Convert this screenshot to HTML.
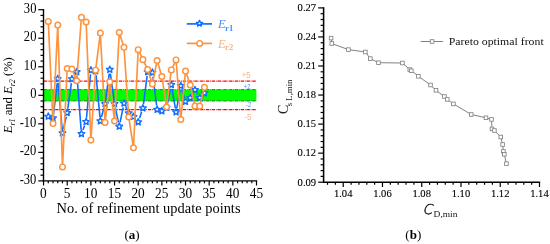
<!DOCTYPE html>
<html><head><meta charset="utf-8"><title>figure</title>
<style>html,body{margin:0;padding:0;background:#fff}body{width:550px;height:244px;overflow:hidden}</style></head>
<body>
<svg width="550" height="244" viewBox="0 0 550 244" style="display:block;font-family:'Liberation Serif', serif">
<rect width="550" height="244" fill="#fff"/>
<rect x="43.5" y="89.59" width="212.9" height="11.41" fill="#00ff00"/>
<line x1="43.5" x2="256.5" y1="89.59" y2="89.59" stroke="#454545" stroke-width="0.8" stroke-dasharray="3.3 0.9 0.7 0.9"/>
<line x1="43.5" x2="256.5" y1="101.01" y2="101.01" stroke="#454545" stroke-width="0.8" stroke-dasharray="3.3 0.9 0.7 0.9"/>
<line x1="43.5" x2="255.7" y1="81.03" y2="81.03" stroke="#ff0000" stroke-width="1.3" stroke-dasharray="3.4 0.8 0.8 0.8"/>
<line x1="43.5" x2="255.7" y1="109.57" y2="109.57" stroke="#ff0000" stroke-width="1.3" stroke-dasharray="3.4 0.8 0.8 0.8"/>
<path d="M53.50 114.06L57.26 82.82M58.10 82.84L62.12 128.88M63.41 128.97L66.28 116.70M67.78 108.65L71.37 83.10M74.21 75.62L74.41 75.32M76.99 75.99L81.10 129.73M82.91 130.01L84.63 125.65M86.51 117.75L90.50 74.27M95.99 75.13L99.95 116.90M101.43 117.03L103.98 107.81M105.63 99.80L109.24 73.68M110.36 73.68L113.97 99.80M115.38 107.87L118.42 122.39M120.09 122.38L123.18 107.31M125.80 106.97L126.93 109.31M139.51 118.24L141.61 112.02M143.46 104.07L147.13 75.97M152.91 76.54L156.60 105.50M167.42 103.55L170.49 88.76M172.02 88.78L175.35 108.09M176.78 108.10L180.06 89.92M181.97 89.81L184.33 97.65M192.34 94.34L192.89 93.41M197.07 93.41L197.62 94.34" fill="none" stroke="#0f6eff" stroke-width="1.6"/>
<polygon points="48.28,112.96 49.22,115.12 51.56,115.35 49.80,116.91 50.31,119.21 48.28,118.01 46.25,119.21 46.76,116.91 45.00,115.35 47.34,115.12" fill="#fff" stroke="#0f6eff" stroke-width="1.45" stroke-linejoin="round"/>
<polygon points="53.01,114.68 53.95,116.83 56.30,117.06 54.54,118.62 55.04,120.92 53.01,119.73 50.99,120.92 51.49,118.62 49.73,117.06 52.07,116.83" fill="#fff" stroke="#0f6eff" stroke-width="1.45" stroke-linejoin="round"/>
<polygon points="57.75,75.30 58.69,77.46 61.03,77.68 59.27,79.25 59.77,81.54 57.75,80.35 55.72,81.54 56.22,79.25 54.47,77.68 56.81,77.46" fill="#fff" stroke="#0f6eff" stroke-width="1.45" stroke-linejoin="round"/>
<polygon points="62.48,129.51 63.42,131.67 65.76,131.90 64.00,133.46 64.51,135.76 62.48,134.56 60.45,135.76 60.96,133.46 59.20,131.90 61.54,131.67" fill="#fff" stroke="#0f6eff" stroke-width="1.45" stroke-linejoin="round"/>
<polygon points="67.21,109.26 68.15,111.41 70.49,111.64 68.73,113.20 69.24,115.50 67.21,114.31 65.18,115.50 65.69,113.20 63.93,111.64 66.27,111.41" fill="#fff" stroke="#0f6eff" stroke-width="1.45" stroke-linejoin="round"/>
<polygon points="71.94,75.59 72.88,77.74 75.22,77.97 73.47,79.53 73.97,81.83 71.94,80.64 69.92,81.83 70.42,79.53 68.66,77.97 71.00,77.74" fill="#fff" stroke="#0f6eff" stroke-width="1.45" stroke-linejoin="round"/>
<polygon points="76.68,68.45 77.62,70.61 79.96,70.84 78.20,72.40 78.70,74.69 76.68,73.50 74.65,74.69 75.15,72.40 73.39,70.84 75.74,70.61" fill="#fff" stroke="#0f6eff" stroke-width="1.45" stroke-linejoin="round"/>
<polygon points="81.41,130.37 82.35,132.53 84.69,132.75 82.93,134.31 83.44,136.61 81.41,135.42 79.38,136.61 79.89,134.31 78.13,132.75 80.47,132.53" fill="#fff" stroke="#0f6eff" stroke-width="1.45" stroke-linejoin="round"/>
<polygon points="86.14,118.39 87.08,120.54 89.42,120.77 87.66,122.33 88.17,124.63 86.14,123.44 84.11,124.63 84.62,122.33 82.86,120.77 85.20,120.54" fill="#fff" stroke="#0f6eff" stroke-width="1.45" stroke-linejoin="round"/>
<polygon points="90.87,66.74 91.81,68.90 94.15,69.12 92.39,70.69 92.90,72.98 90.87,71.79 88.84,72.98 89.35,70.69 87.59,69.12 89.93,68.90" fill="#fff" stroke="#0f6eff" stroke-width="1.45" stroke-linejoin="round"/>
<polygon points="95.60,67.60 96.54,69.75 98.89,69.98 97.13,71.54 97.63,73.84 95.60,72.65 93.58,73.84 94.08,71.54 92.32,69.98 94.66,69.75" fill="#fff" stroke="#0f6eff" stroke-width="1.45" stroke-linejoin="round"/>
<polygon points="100.34,117.53 101.28,119.69 103.62,119.91 101.86,121.47 102.36,123.77 100.34,122.58 98.31,123.77 98.81,121.47 97.06,119.91 99.40,119.69" fill="#fff" stroke="#0f6eff" stroke-width="1.45" stroke-linejoin="round"/>
<polygon points="105.07,100.41 106.01,102.57 108.35,102.79 106.59,104.35 107.10,106.65 105.07,105.46 103.04,106.65 103.55,104.35 101.79,102.79 104.13,102.57" fill="#fff" stroke="#0f6eff" stroke-width="1.45" stroke-linejoin="round"/>
<polygon points="109.80,66.17 110.74,68.33 113.08,68.55 111.32,70.11 111.83,72.41 109.80,71.22 107.77,72.41 108.28,70.11 106.52,68.55 108.86,68.33" fill="#fff" stroke="#0f6eff" stroke-width="1.45" stroke-linejoin="round"/>
<polygon points="114.53,100.41 115.47,102.57 117.81,102.79 116.06,104.35 116.56,106.65 114.53,105.46 112.51,106.65 113.01,104.35 111.25,102.79 113.59,102.57" fill="#fff" stroke="#0f6eff" stroke-width="1.45" stroke-linejoin="round"/>
<polygon points="119.27,122.95 120.21,125.11 122.55,125.34 120.79,126.90 121.29,129.19 119.27,128.00 117.24,129.19 117.74,126.90 115.98,125.34 118.33,125.11" fill="#fff" stroke="#0f6eff" stroke-width="1.45" stroke-linejoin="round"/>
<polygon points="124.00,99.84 124.94,101.99 127.28,102.22 125.52,103.78 126.03,106.08 124.00,104.89 121.97,106.08 122.48,103.78 120.72,102.22 123.06,101.99" fill="#fff" stroke="#0f6eff" stroke-width="1.45" stroke-linejoin="round"/>
<polygon points="128.73,109.54 129.67,111.70 132.01,111.92 130.25,113.49 130.76,115.78 128.73,114.59 126.70,115.78 127.21,113.49 125.45,111.92 127.79,111.70" fill="#fff" stroke="#0f6eff" stroke-width="1.45" stroke-linejoin="round"/>
<polygon points="133.46,113.25 134.40,115.41 136.74,115.63 134.98,117.19 135.49,119.49 133.46,118.30 131.43,119.49 131.94,117.19 130.18,115.63 132.52,115.41" fill="#fff" stroke="#0f6eff" stroke-width="1.45" stroke-linejoin="round"/>
<polygon points="138.19,118.67 139.13,120.83 141.48,121.06 139.72,122.62 140.22,124.91 138.19,123.72 136.17,124.91 136.67,122.62 134.91,121.06 137.25,120.83" fill="#fff" stroke="#0f6eff" stroke-width="1.45" stroke-linejoin="round"/>
<polygon points="142.93,104.69 143.87,106.85 146.21,107.07 144.45,108.63 144.95,110.93 142.93,109.74 140.90,110.93 141.40,108.63 139.65,107.07 141.99,106.85" fill="#fff" stroke="#0f6eff" stroke-width="1.45" stroke-linejoin="round"/>
<polygon points="147.66,68.45 148.60,70.61 150.94,70.84 149.18,72.40 149.69,74.69 147.66,73.50 145.63,74.69 146.14,72.40 144.38,70.84 146.72,70.61" fill="#fff" stroke="#0f6eff" stroke-width="1.45" stroke-linejoin="round"/>
<polygon points="152.39,69.02 153.33,71.18 155.67,71.41 153.91,72.97 154.42,75.26 152.39,74.07 150.36,75.26 150.87,72.97 149.11,71.41 151.45,71.18" fill="#fff" stroke="#0f6eff" stroke-width="1.45" stroke-linejoin="round"/>
<polygon points="157.12,106.12 158.06,108.27 160.40,108.50 158.65,110.06 159.15,112.36 157.12,111.17 155.10,112.36 155.60,110.06 153.84,108.50 156.18,108.27" fill="#fff" stroke="#0f6eff" stroke-width="1.45" stroke-linejoin="round"/>
<polygon points="161.86,107.54 162.80,109.70 165.14,109.93 163.38,111.49 163.88,113.78 161.86,112.59 159.83,113.78 160.33,111.49 158.57,109.93 160.92,109.70" fill="#fff" stroke="#0f6eff" stroke-width="1.45" stroke-linejoin="round"/>
<polygon points="166.59,104.12 167.53,106.27 169.87,106.50 168.11,108.06 168.62,110.36 166.59,109.17 164.56,110.36 165.07,108.06 163.31,106.50 165.65,106.27" fill="#fff" stroke="#0f6eff" stroke-width="1.45" stroke-linejoin="round"/>
<polygon points="171.32,81.29 172.26,83.45 174.60,83.68 172.84,85.24 173.35,87.53 171.32,86.34 169.29,87.53 169.80,85.24 168.04,83.68 170.38,83.45" fill="#fff" stroke="#0f6eff" stroke-width="1.45" stroke-linejoin="round"/>
<polygon points="176.05,108.68 176.99,110.84 179.33,111.07 177.57,112.63 178.08,114.93 176.05,113.73 174.02,114.93 174.53,112.63 172.77,111.07 175.11,110.84" fill="#fff" stroke="#0f6eff" stroke-width="1.45" stroke-linejoin="round"/>
<polygon points="180.78,82.43 181.72,84.59 184.07,84.82 182.31,86.38 182.81,88.68 180.78,87.48 178.76,88.68 179.26,86.38 177.50,84.82 179.84,84.59" fill="#fff" stroke="#0f6eff" stroke-width="1.45" stroke-linejoin="round"/>
<polygon points="185.52,98.13 186.46,100.28 188.80,100.51 187.04,102.07 187.54,104.37 185.52,103.18 183.49,104.37 183.99,102.07 182.24,100.51 184.58,100.28" fill="#fff" stroke="#0f6eff" stroke-width="1.45" stroke-linejoin="round"/>
<polygon points="190.25,94.42 191.19,96.57 193.53,96.80 191.77,98.36 192.28,100.66 190.25,99.47 188.22,100.66 188.73,98.36 186.97,96.80 189.31,96.57" fill="#fff" stroke="#0f6eff" stroke-width="1.45" stroke-linejoin="round"/>
<polygon points="194.98,86.43 195.92,88.58 198.26,88.81 196.50,90.37 197.01,92.67 194.98,91.48 192.95,92.67 193.46,90.37 191.70,88.81 194.04,88.58" fill="#fff" stroke="#0f6eff" stroke-width="1.45" stroke-linejoin="round"/>
<polygon points="199.71,94.42 200.65,96.57 202.99,96.80 201.24,98.36 201.74,100.66 199.71,99.47 197.69,100.66 198.19,98.36 196.43,96.80 198.77,96.57" fill="#fff" stroke="#0f6eff" stroke-width="1.45" stroke-linejoin="round"/>
<polygon points="204.45,89.57 205.39,91.72 207.73,91.95 205.97,93.51 206.47,95.81 204.45,94.62 202.42,95.81 202.92,93.51 201.16,91.95 203.51,91.72" fill="#fff" stroke="#0f6eff" stroke-width="1.45" stroke-linejoin="round"/>
<polyline points="48.28,21.40 53.01,123.55 57.75,25.11 62.48,166.92 67.21,68.48 71.94,69.05 76.68,80.75 81.41,17.40 86.14,21.97 90.87,140.10 95.60,70.19 100.34,33.10 105.07,122.41 109.80,81.89 114.53,120.98 119.27,32.53 124.00,47.36 128.73,116.99 133.46,147.80 138.19,49.65 142.93,59.63 147.66,69.62 152.39,83.89 157.12,60.49 161.86,76.47 166.59,107.00 171.32,69.91 176.05,59.92 180.78,119.55 185.52,71.05 190.25,85.03 194.98,106.14 199.71,106.14 204.45,87.31" fill="none" stroke="#fd933e" stroke-width="1.65" stroke-linejoin="round"/>
<circle cx="48.28" cy="21.40" r="2.8" fill="#fff" stroke="#fd933e" stroke-width="1.45"/>
<circle cx="53.01" cy="123.55" r="2.8" fill="#fff" stroke="#fd933e" stroke-width="1.45"/>
<circle cx="57.75" cy="25.11" r="2.8" fill="#fff" stroke="#fd933e" stroke-width="1.45"/>
<circle cx="62.48" cy="166.92" r="2.8" fill="#fff" stroke="#fd933e" stroke-width="1.45"/>
<circle cx="67.21" cy="68.48" r="2.8" fill="#fff" stroke="#fd933e" stroke-width="1.45"/>
<circle cx="71.94" cy="69.05" r="2.8" fill="#fff" stroke="#fd933e" stroke-width="1.45"/>
<circle cx="76.68" cy="80.75" r="2.8" fill="#fff" stroke="#fd933e" stroke-width="1.45"/>
<circle cx="81.41" cy="17.40" r="2.8" fill="#fff" stroke="#fd933e" stroke-width="1.45"/>
<circle cx="86.14" cy="21.97" r="2.8" fill="#fff" stroke="#fd933e" stroke-width="1.45"/>
<circle cx="90.87" cy="140.10" r="2.8" fill="#fff" stroke="#fd933e" stroke-width="1.45"/>
<circle cx="95.60" cy="70.19" r="2.8" fill="#fff" stroke="#fd933e" stroke-width="1.45"/>
<circle cx="100.34" cy="33.10" r="2.8" fill="#fff" stroke="#fd933e" stroke-width="1.45"/>
<circle cx="105.07" cy="122.41" r="2.8" fill="#fff" stroke="#fd933e" stroke-width="1.45"/>
<circle cx="109.80" cy="81.89" r="2.8" fill="#fff" stroke="#fd933e" stroke-width="1.45"/>
<circle cx="114.53" cy="120.98" r="2.8" fill="#fff" stroke="#fd933e" stroke-width="1.45"/>
<circle cx="119.27" cy="32.53" r="2.8" fill="#fff" stroke="#fd933e" stroke-width="1.45"/>
<circle cx="124.00" cy="47.36" r="2.8" fill="#fff" stroke="#fd933e" stroke-width="1.45"/>
<circle cx="128.73" cy="116.99" r="2.8" fill="#fff" stroke="#fd933e" stroke-width="1.45"/>
<circle cx="133.46" cy="147.80" r="2.8" fill="#fff" stroke="#fd933e" stroke-width="1.45"/>
<circle cx="138.19" cy="49.65" r="2.8" fill="#fff" stroke="#fd933e" stroke-width="1.45"/>
<circle cx="142.93" cy="59.63" r="2.8" fill="#fff" stroke="#fd933e" stroke-width="1.45"/>
<circle cx="147.66" cy="69.62" r="2.8" fill="#fff" stroke="#fd933e" stroke-width="1.45"/>
<circle cx="152.39" cy="83.89" r="2.8" fill="#fff" stroke="#fd933e" stroke-width="1.45"/>
<circle cx="157.12" cy="60.49" r="2.8" fill="#fff" stroke="#fd933e" stroke-width="1.45"/>
<circle cx="161.86" cy="76.47" r="2.8" fill="#fff" stroke="#fd933e" stroke-width="1.45"/>
<circle cx="166.59" cy="107.00" r="2.8" fill="#fff" stroke="#fd933e" stroke-width="1.45"/>
<circle cx="171.32" cy="69.91" r="2.8" fill="#fff" stroke="#fd933e" stroke-width="1.45"/>
<circle cx="176.05" cy="59.92" r="2.8" fill="#fff" stroke="#fd933e" stroke-width="1.45"/>
<circle cx="180.78" cy="119.55" r="2.8" fill="#fff" stroke="#fd933e" stroke-width="1.45"/>
<circle cx="185.52" cy="71.05" r="2.8" fill="#fff" stroke="#fd933e" stroke-width="1.45"/>
<circle cx="190.25" cy="85.03" r="2.8" fill="#fff" stroke="#fd933e" stroke-width="1.45"/>
<circle cx="194.98" cy="106.14" r="2.8" fill="#fff" stroke="#fd933e" stroke-width="1.45"/>
<circle cx="199.71" cy="106.14" r="2.8" fill="#fff" stroke="#fd933e" stroke-width="1.45"/>
<circle cx="204.45" cy="87.31" r="2.8" fill="#fff" stroke="#fd933e" stroke-width="1.45"/>
<g stroke="#000" stroke-width="1.4" fill="none">
<line x1="43.5" x2="43.5" y1="9.00" y2="181.60"/>
<line x1="42.8" x2="257.2" y1="180.90" y2="180.90"/>
</g><g stroke="#000" stroke-width="1.2">
<line x1="38.3" x2="43.5" y1="180.90" y2="180.90"/>
<line x1="40.5" x2="43.5" y1="175.19" y2="175.19"/>
<line x1="40.5" x2="43.5" y1="169.49" y2="169.49"/>
<line x1="40.5" x2="43.5" y1="163.78" y2="163.78"/>
<line x1="40.5" x2="43.5" y1="158.07" y2="158.07"/>
<line x1="38.3" x2="43.5" y1="152.37" y2="152.37"/>
<line x1="40.5" x2="43.5" y1="146.66" y2="146.66"/>
<line x1="40.5" x2="43.5" y1="140.95" y2="140.95"/>
<line x1="40.5" x2="43.5" y1="135.25" y2="135.25"/>
<line x1="40.5" x2="43.5" y1="129.54" y2="129.54"/>
<line x1="38.3" x2="43.5" y1="123.83" y2="123.83"/>
<line x1="40.5" x2="43.5" y1="118.13" y2="118.13"/>
<line x1="40.5" x2="43.5" y1="112.42" y2="112.42"/>
<line x1="40.5" x2="43.5" y1="106.71" y2="106.71"/>
<line x1="40.5" x2="43.5" y1="101.01" y2="101.01"/>
<line x1="38.3" x2="43.5" y1="95.30" y2="95.30"/>
<line x1="40.5" x2="43.5" y1="89.59" y2="89.59"/>
<line x1="40.5" x2="43.5" y1="83.89" y2="83.89"/>
<line x1="40.5" x2="43.5" y1="78.18" y2="78.18"/>
<line x1="40.5" x2="43.5" y1="72.47" y2="72.47"/>
<line x1="38.3" x2="43.5" y1="66.77" y2="66.77"/>
<line x1="40.5" x2="43.5" y1="61.06" y2="61.06"/>
<line x1="40.5" x2="43.5" y1="55.35" y2="55.35"/>
<line x1="40.5" x2="43.5" y1="49.65" y2="49.65"/>
<line x1="40.5" x2="43.5" y1="43.94" y2="43.94"/>
<line x1="38.3" x2="43.5" y1="38.23" y2="38.23"/>
<line x1="40.5" x2="43.5" y1="32.53" y2="32.53"/>
<line x1="40.5" x2="43.5" y1="26.82" y2="26.82"/>
<line x1="40.5" x2="43.5" y1="21.11" y2="21.11"/>
<line x1="40.5" x2="43.5" y1="15.41" y2="15.41"/>
<line x1="38.3" x2="43.5" y1="9.70" y2="9.70"/>
<line x1="43.55" x2="43.55" y1="180.90" y2="185.50"/>
<line x1="48.28" x2="48.28" y1="180.90" y2="183.30"/>
<line x1="53.01" x2="53.01" y1="180.90" y2="183.30"/>
<line x1="57.75" x2="57.75" y1="180.90" y2="183.30"/>
<line x1="62.48" x2="62.48" y1="180.90" y2="183.30"/>
<line x1="67.21" x2="67.21" y1="180.90" y2="185.50"/>
<line x1="71.94" x2="71.94" y1="180.90" y2="183.30"/>
<line x1="76.68" x2="76.68" y1="180.90" y2="183.30"/>
<line x1="81.41" x2="81.41" y1="180.90" y2="183.30"/>
<line x1="86.14" x2="86.14" y1="180.90" y2="183.30"/>
<line x1="90.87" x2="90.87" y1="180.90" y2="185.50"/>
<line x1="95.60" x2="95.60" y1="180.90" y2="183.30"/>
<line x1="100.34" x2="100.34" y1="180.90" y2="183.30"/>
<line x1="105.07" x2="105.07" y1="180.90" y2="183.30"/>
<line x1="109.80" x2="109.80" y1="180.90" y2="183.30"/>
<line x1="114.53" x2="114.53" y1="180.90" y2="185.50"/>
<line x1="119.27" x2="119.27" y1="180.90" y2="183.30"/>
<line x1="124.00" x2="124.00" y1="180.90" y2="183.30"/>
<line x1="128.73" x2="128.73" y1="180.90" y2="183.30"/>
<line x1="133.46" x2="133.46" y1="180.90" y2="183.30"/>
<line x1="138.19" x2="138.19" y1="180.90" y2="185.50"/>
<line x1="142.93" x2="142.93" y1="180.90" y2="183.30"/>
<line x1="147.66" x2="147.66" y1="180.90" y2="183.30"/>
<line x1="152.39" x2="152.39" y1="180.90" y2="183.30"/>
<line x1="157.12" x2="157.12" y1="180.90" y2="183.30"/>
<line x1="161.86" x2="161.86" y1="180.90" y2="185.50"/>
<line x1="166.59" x2="166.59" y1="180.90" y2="183.30"/>
<line x1="171.32" x2="171.32" y1="180.90" y2="183.30"/>
<line x1="176.05" x2="176.05" y1="180.90" y2="183.30"/>
<line x1="180.78" x2="180.78" y1="180.90" y2="183.30"/>
<line x1="185.52" x2="185.52" y1="180.90" y2="185.50"/>
<line x1="190.25" x2="190.25" y1="180.90" y2="183.30"/>
<line x1="194.98" x2="194.98" y1="180.90" y2="183.30"/>
<line x1="199.71" x2="199.71" y1="180.90" y2="183.30"/>
<line x1="204.45" x2="204.45" y1="180.90" y2="183.30"/>
<line x1="209.18" x2="209.18" y1="180.90" y2="185.50"/>
<line x1="213.91" x2="213.91" y1="180.90" y2="183.30"/>
<line x1="218.64" x2="218.64" y1="180.90" y2="183.30"/>
<line x1="223.37" x2="223.37" y1="180.90" y2="183.30"/>
<line x1="228.11" x2="228.11" y1="180.90" y2="183.30"/>
<line x1="232.84" x2="232.84" y1="180.90" y2="185.50"/>
<line x1="237.57" x2="237.57" y1="180.90" y2="183.30"/>
<line x1="242.30" x2="242.30" y1="180.90" y2="183.30"/>
<line x1="247.04" x2="247.04" y1="180.90" y2="183.30"/>
<line x1="251.77" x2="251.77" y1="180.90" y2="183.30"/>
<line x1="256.50" x2="256.50" y1="180.90" y2="185.50"/>
</g>
<g font-size="14" fill="#000">
<text x="36.4" y="184.00" text-anchor="end" textLength="16.70" lengthAdjust="spacingAndGlyphs">-30</text>
<text x="36.4" y="155.47" text-anchor="end" textLength="16.70" lengthAdjust="spacingAndGlyphs">-20</text>
<text x="36.4" y="126.93" text-anchor="end" textLength="16.70" lengthAdjust="spacingAndGlyphs">-10</text>
<text x="36.4" y="98.40" text-anchor="end" textLength="6.27" lengthAdjust="spacingAndGlyphs">0</text>
<text x="36.4" y="69.87" text-anchor="end" textLength="12.53" lengthAdjust="spacingAndGlyphs">10</text>
<text x="36.4" y="41.33" text-anchor="end" textLength="12.53" lengthAdjust="spacingAndGlyphs">20</text>
<text x="36.4" y="12.80" text-anchor="end" textLength="12.53" lengthAdjust="spacingAndGlyphs">30</text>
<text x="40.12" y="197.6" textLength="6.65" lengthAdjust="spacingAndGlyphs">0</text>
<text x="63.79" y="197.6" textLength="6.65" lengthAdjust="spacingAndGlyphs">5</text>
<text x="84.12" y="197.6" textLength="13.30" lengthAdjust="spacingAndGlyphs">10</text>
<text x="107.78" y="197.6" textLength="13.30" lengthAdjust="spacingAndGlyphs">15</text>
<text x="131.44" y="197.6" textLength="13.30" lengthAdjust="spacingAndGlyphs">20</text>
<text x="155.11" y="197.6" textLength="13.30" lengthAdjust="spacingAndGlyphs">25</text>
<text x="178.77" y="197.6" textLength="13.30" lengthAdjust="spacingAndGlyphs">30</text>
<text x="202.43" y="197.6" textLength="13.30" lengthAdjust="spacingAndGlyphs">35</text>
<text x="226.09" y="197.6" textLength="13.30" lengthAdjust="spacingAndGlyphs">40</text>
<text x="249.75" y="197.6" textLength="13.30" lengthAdjust="spacingAndGlyphs">45</text>
</g>
<text x="56.5" y="213.4" font-size="14.2" textLength="184" lengthAdjust="spacingAndGlyphs">No. of refinement update points</text>
<text transform="translate(12.4,133.2) rotate(-90)" font-size="13.4" textLength="76" lengthAdjust="spacingAndGlyphs"><tspan font-style="italic">E</tspan><tspan font-size="8.6" dy="2.2" font-style="italic">r1</tspan><tspan dy="-2.2"> and </tspan><tspan font-style="italic">E</tspan><tspan font-size="8.6" dy="2.2" font-style="italic">r2</tspan><tspan dy="-2.2"> (%)</tspan></text>
<line x1="186.8" x2="212" y1="23.9" y2="23.9" stroke="#0f6eff" stroke-width="1.7"/>
<polygon points="199.50,20.30 200.35,22.33 202.54,22.51 200.88,23.95 201.38,26.09 199.50,24.95 197.62,26.09 198.12,23.95 196.46,22.51 198.65,22.33" fill="#fff" stroke="#0f6eff" stroke-width="1.45" stroke-linejoin="round"/>
<text x="218" y="28.0" font-size="12.6" fill="#4490fb"><tspan font-style="italic">E</tspan><tspan font-size="8.6" dy="2.9" dx="-0.6" font-weight="bold">r1</tspan></text>
<line x1="186.8" x2="212" y1="43.4" y2="43.4" stroke="#fd933e" stroke-width="1.7"/>
<circle cx="199.7" cy="43.4" r="2.8" fill="#fff" stroke="#fd933e" stroke-width="1.45"/>
<text x="218" y="47.5" font-size="12.6" fill="#fab384"><tspan font-style="italic">E</tspan><tspan font-size="8.6" dy="2.9" dx="-0.6" font-weight="bold">r2</tspan></text>
<text x="241.8" y="77.5" font-size="9.3" font-family="'Liberation Sans', sans-serif" fill="#fab384" textLength="8.7" lengthAdjust="spacingAndGlyphs">+5</text>
<text x="244.2" y="119.7" font-size="9.3" font-family="'Liberation Sans', sans-serif" fill="#fab384" textLength="7.2" lengthAdjust="spacingAndGlyphs">-5</text>
<text x="243.8" y="88.9" font-size="7.6" font-family="'Liberation Sans', sans-serif" fill="#4490fb" textLength="6.7" lengthAdjust="spacingAndGlyphs">+2</text>
<text x="246.1" y="106.8" font-size="7.6" font-family="'Liberation Sans', sans-serif" fill="#4490fb" textLength="5.3" lengthAdjust="spacingAndGlyphs">-2</text>
<text x="132" y="238.7" font-size="13" text-anchor="middle">(<tspan font-weight="bold">a</tspan>)</text>
<polyline points="331.1,38.1 331.8,43.5 348.4,49.6 365.4,52.0 370.3,58.6 378.5,62.7 402.4,63.0 409.8,69.6 411.3,70.7 418.4,76.3 430.5,85.0 436.0,90.3 444.4,96.5 447.2,99.4 453.4,103.9 471.2,114.5 486.0,117.8 491.5,119.4 492.0,128.9 494.4,130.5 500.8,137.0 502.6,144.5 503.4,151.4 504.3,154.3 506.4,163.7" fill="none" stroke="#828282" stroke-width="1"/>
<rect x="329.3" y="36.3" width="3.6" height="3.6" fill="#fff" stroke="#828282" stroke-width="0.85"/>
<rect x="330.0" y="41.7" width="3.6" height="3.6" fill="#fff" stroke="#828282" stroke-width="0.85"/>
<rect x="346.6" y="47.8" width="3.6" height="3.6" fill="#fff" stroke="#828282" stroke-width="0.85"/>
<rect x="363.6" y="50.2" width="3.6" height="3.6" fill="#fff" stroke="#828282" stroke-width="0.85"/>
<rect x="368.5" y="56.8" width="3.6" height="3.6" fill="#fff" stroke="#828282" stroke-width="0.85"/>
<rect x="376.7" y="60.9" width="3.6" height="3.6" fill="#fff" stroke="#828282" stroke-width="0.85"/>
<rect x="400.6" y="61.2" width="3.6" height="3.6" fill="#fff" stroke="#828282" stroke-width="0.85"/>
<rect x="408.0" y="67.8" width="3.6" height="3.6" fill="#fff" stroke="#828282" stroke-width="0.85"/>
<rect x="409.5" y="68.9" width="3.6" height="3.6" fill="#fff" stroke="#828282" stroke-width="0.85"/>
<rect x="416.6" y="74.5" width="3.6" height="3.6" fill="#fff" stroke="#828282" stroke-width="0.85"/>
<rect x="428.7" y="83.2" width="3.6" height="3.6" fill="#fff" stroke="#828282" stroke-width="0.85"/>
<rect x="434.2" y="88.5" width="3.6" height="3.6" fill="#fff" stroke="#828282" stroke-width="0.85"/>
<rect x="442.6" y="94.7" width="3.6" height="3.6" fill="#fff" stroke="#828282" stroke-width="0.85"/>
<rect x="445.4" y="97.6" width="3.6" height="3.6" fill="#fff" stroke="#828282" stroke-width="0.85"/>
<rect x="451.6" y="102.1" width="3.6" height="3.6" fill="#fff" stroke="#828282" stroke-width="0.85"/>
<rect x="469.4" y="112.7" width="3.6" height="3.6" fill="#fff" stroke="#828282" stroke-width="0.85"/>
<rect x="484.2" y="116.0" width="3.6" height="3.6" fill="#fff" stroke="#828282" stroke-width="0.85"/>
<rect x="489.7" y="117.6" width="3.6" height="3.6" fill="#fff" stroke="#828282" stroke-width="0.85"/>
<rect x="490.2" y="127.1" width="3.6" height="3.6" fill="#fff" stroke="#828282" stroke-width="0.85"/>
<rect x="492.6" y="128.7" width="3.6" height="3.6" fill="#fff" stroke="#828282" stroke-width="0.85"/>
<rect x="499.0" y="135.2" width="3.6" height="3.6" fill="#fff" stroke="#828282" stroke-width="0.85"/>
<rect x="500.8" y="142.7" width="3.6" height="3.6" fill="#fff" stroke="#828282" stroke-width="0.85"/>
<rect x="501.6" y="149.6" width="3.6" height="3.6" fill="#fff" stroke="#828282" stroke-width="0.85"/>
<rect x="502.5" y="152.5" width="3.6" height="3.6" fill="#fff" stroke="#828282" stroke-width="0.85"/>
<rect x="504.6" y="161.9" width="3.6" height="3.6" fill="#fff" stroke="#828282" stroke-width="0.85"/>
<g stroke="#000" stroke-width="1.55" fill="none">
<line x1="323.6" x2="323.6" y1="7.20" y2="182.90"/>
<line x1="322.9" x2="540.2" y1="182.20" y2="182.20"/>
</g><g stroke="#000" stroke-width="1.2">
<line x1="318.2" x2="323.6" y1="182.20" y2="182.20"/>
<line x1="320.6" x2="323.6" y1="176.39" y2="176.39"/>
<line x1="320.6" x2="323.6" y1="170.58" y2="170.58"/>
<line x1="320.6" x2="323.6" y1="164.77" y2="164.77"/>
<line x1="320.6" x2="323.6" y1="158.96" y2="158.96"/>
<line x1="318.2" x2="323.6" y1="153.15" y2="153.15"/>
<line x1="320.6" x2="323.6" y1="147.34" y2="147.34"/>
<line x1="320.6" x2="323.6" y1="141.53" y2="141.53"/>
<line x1="320.6" x2="323.6" y1="135.72" y2="135.72"/>
<line x1="320.6" x2="323.6" y1="129.91" y2="129.91"/>
<line x1="318.2" x2="323.6" y1="124.10" y2="124.10"/>
<line x1="320.6" x2="323.6" y1="118.29" y2="118.29"/>
<line x1="320.6" x2="323.6" y1="112.48" y2="112.48"/>
<line x1="320.6" x2="323.6" y1="106.67" y2="106.67"/>
<line x1="320.6" x2="323.6" y1="100.86" y2="100.86"/>
<line x1="318.2" x2="323.6" y1="95.05" y2="95.05"/>
<line x1="320.6" x2="323.6" y1="89.24" y2="89.24"/>
<line x1="320.6" x2="323.6" y1="83.43" y2="83.43"/>
<line x1="320.6" x2="323.6" y1="77.62" y2="77.62"/>
<line x1="320.6" x2="323.6" y1="71.81" y2="71.81"/>
<line x1="318.2" x2="323.6" y1="66.00" y2="66.00"/>
<line x1="320.6" x2="323.6" y1="60.19" y2="60.19"/>
<line x1="320.6" x2="323.6" y1="54.38" y2="54.38"/>
<line x1="320.6" x2="323.6" y1="48.57" y2="48.57"/>
<line x1="320.6" x2="323.6" y1="42.76" y2="42.76"/>
<line x1="318.2" x2="323.6" y1="36.95" y2="36.95"/>
<line x1="320.6" x2="323.6" y1="31.14" y2="31.14"/>
<line x1="320.6" x2="323.6" y1="25.33" y2="25.33"/>
<line x1="320.6" x2="323.6" y1="19.52" y2="19.52"/>
<line x1="320.6" x2="323.6" y1="13.71" y2="13.71"/>
<line x1="318.2" x2="323.6" y1="7.90" y2="7.90"/>
<line x1="327.53" x2="327.53" y1="182.20" y2="184.80"/>
<line x1="335.38" x2="335.38" y1="182.20" y2="184.80"/>
<line x1="343.23" x2="343.23" y1="182.20" y2="187.00"/>
<line x1="351.08" x2="351.08" y1="182.20" y2="184.80"/>
<line x1="358.93" x2="358.93" y1="182.20" y2="184.80"/>
<line x1="366.78" x2="366.78" y1="182.20" y2="184.80"/>
<line x1="374.63" x2="374.63" y1="182.20" y2="184.80"/>
<line x1="382.48" x2="382.48" y1="182.20" y2="187.00"/>
<line x1="390.33" x2="390.33" y1="182.20" y2="184.80"/>
<line x1="398.18" x2="398.18" y1="182.20" y2="184.80"/>
<line x1="406.03" x2="406.03" y1="182.20" y2="184.80"/>
<line x1="413.89" x2="413.89" y1="182.20" y2="184.80"/>
<line x1="421.74" x2="421.74" y1="182.20" y2="187.00"/>
<line x1="429.59" x2="429.59" y1="182.20" y2="184.80"/>
<line x1="437.44" x2="437.44" y1="182.20" y2="184.80"/>
<line x1="445.29" x2="445.29" y1="182.20" y2="184.80"/>
<line x1="453.14" x2="453.14" y1="182.20" y2="184.80"/>
<line x1="460.99" x2="460.99" y1="182.20" y2="187.00"/>
<line x1="468.84" x2="468.84" y1="182.20" y2="184.80"/>
<line x1="476.69" x2="476.69" y1="182.20" y2="184.80"/>
<line x1="484.54" x2="484.54" y1="182.20" y2="184.80"/>
<line x1="492.39" x2="492.39" y1="182.20" y2="184.80"/>
<line x1="500.25" x2="500.25" y1="182.20" y2="187.00"/>
<line x1="508.10" x2="508.10" y1="182.20" y2="184.80"/>
<line x1="515.95" x2="515.95" y1="182.20" y2="184.80"/>
<line x1="523.80" x2="523.80" y1="182.20" y2="184.80"/>
<line x1="531.65" x2="531.65" y1="182.20" y2="184.80"/>
<line x1="539.50" x2="539.50" y1="182.20" y2="187.00"/>
</g>
<g font-size="11.4" fill="#000" stroke="#000" stroke-width="0.12">
<text x="297.6" y="185.50" textLength="18.5" lengthAdjust="spacingAndGlyphs">0.09</text>
<text x="297.6" y="156.45" textLength="18.5" lengthAdjust="spacingAndGlyphs">0.12</text>
<text x="297.6" y="127.40" textLength="18.5" lengthAdjust="spacingAndGlyphs">0.15</text>
<text x="297.6" y="98.35" textLength="18.5" lengthAdjust="spacingAndGlyphs">0.18</text>
<text x="297.6" y="69.30" textLength="18.5" lengthAdjust="spacingAndGlyphs">0.21</text>
<text x="297.6" y="40.25" textLength="18.5" lengthAdjust="spacingAndGlyphs">0.24</text>
<text x="297.6" y="11.20" textLength="18.5" lengthAdjust="spacingAndGlyphs">0.27</text>
<text x="333.93" y="197.3" textLength="18.5" lengthAdjust="spacingAndGlyphs">1.04</text>
<text x="373.18" y="197.3" textLength="18.5" lengthAdjust="spacingAndGlyphs">1.06</text>
<text x="412.44" y="197.3" textLength="18.5" lengthAdjust="spacingAndGlyphs">1.08</text>
<text x="451.69" y="197.3" textLength="18.5" lengthAdjust="spacingAndGlyphs">1.10</text>
<text x="490.95" y="197.3" textLength="18.5" lengthAdjust="spacingAndGlyphs">1.12</text>
<text x="530.20" y="197.3" textLength="18.5" lengthAdjust="spacingAndGlyphs">1.14</text>
</g>
<line x1="420.7" x2="443.1" y1="41.5" y2="41.5" stroke="#828282" stroke-width="1"/>
<rect x="430.3" y="39.7" width="3.6" height="3.6" fill="#fff" stroke="#828282" stroke-width="0.85"/>
<text x="448.7" y="44.9" font-size="11.2" fill="#111" textLength="95" lengthAdjust="spacingAndGlyphs">Pareto optimal front</text>
<text transform="translate(288.3,114) rotate(-90)" font-size="14" fill="#222">C</text>
<text transform="translate(292.1,106.3) rotate(-90)" font-size="9.2" fill="#111" textLength="26.8" lengthAdjust="spacingAndGlyphs">s L,min</text>
<text x="422.6" y="214.4" font-size="13.6" fill="#111" stroke="#111" stroke-width="0.45" font-style="italic" font-family="'DejaVu Sans Light', 'DejaVu Sans', sans-serif" font-weight="200">C</text>
<text x="433.6" y="216.7" font-size="9" fill="#111" textLength="23.8" lengthAdjust="spacingAndGlyphs">D,min</text>
<text x="413.3" y="239" font-size="13" text-anchor="middle">(<tspan font-weight="bold">b</tspan>)</text>
</svg>
</body></html>
